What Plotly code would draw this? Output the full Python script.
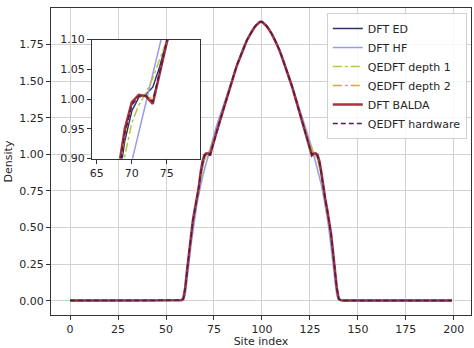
import plotly.graph_objects as go

# Lattice sites of the 1D chain
sites = list(range(200))

# Empty-region density (sites 0-56 and 143-199)
BASE = 0.003
N_EDGE = 57

# Densities on sites 57-99 (left flank) and 100-142 (right flank)
ed_left = [0.003, 0.004, 0.012, 0.08, 0.20, 0.33, 0.45, 0.54, 0.615, 0.685, 0.755,
           0.85, 0.93, 0.98, 1.003, 1.008, 1.02, 1.055, 1.10, 1.14, 1.18, 1.225,
           1.27, 1.315, 1.36, 1.405, 1.45, 1.49, 1.53, 1.57, 1.61, 1.645, 1.68,
           1.715, 1.745, 1.775, 1.80, 1.825, 1.848, 1.866, 1.882, 1.895, 1.905]
ed_right = [1.905, 1.895, 1.882, 1.866, 1.848, 1.825, 1.80, 1.775, 1.745, 1.715,
            1.68, 1.645, 1.61, 1.57, 1.53, 1.49, 1.45, 1.405, 1.36, 1.315, 1.27,
            1.225, 1.18, 1.14, 1.10, 1.055, 1.02, 1.008, 1.003, 0.98, 0.93, 0.85,
            0.755, 0.685, 0.615, 0.54, 0.45, 0.33, 0.20, 0.08, 0.012, 0.004, 0.003]

hf_left = [0.003, 0.003, 0.004, 0.04, 0.14, 0.26, 0.38, 0.48, 0.57, 0.65, 0.72,
           0.79, 0.845, 0.895, 0.945, 0.995, 1.045, 1.095, 1.14, 1.18, 1.22, 1.26,
           1.30, 1.34, 1.38, 1.42, 1.46, 1.50, 1.54, 1.58, 1.615, 1.65, 1.685,
           1.72, 1.75, 1.78, 1.805, 1.83, 1.852, 1.87, 1.886, 1.899, 1.91]
hf_right = [1.91, 1.899, 1.886, 1.87, 1.852, 1.83, 1.805, 1.78, 1.75, 1.72, 1.685,
            1.65, 1.615, 1.58, 1.54, 1.50, 1.46, 1.42, 1.38, 1.34, 1.30, 1.26,
            1.22, 1.18, 1.14, 1.095, 1.045, 0.995, 0.945, 0.895, 0.845, 0.79,
            0.72, 0.65, 0.57, 0.48, 0.38, 0.26, 0.14, 0.04, 0.004, 0.003, 0.003]

d1_left = [0.003, 0.004, 0.01, 0.07, 0.19, 0.32, 0.44, 0.53, 0.605, 0.675, 0.74,
           0.83, 0.905, 0.96, 0.99, 1.01, 1.035, 1.07, 1.105, 1.14, 1.18, 1.225,
           1.27, 1.315, 1.36, 1.405, 1.45, 1.49, 1.53, 1.57, 1.61, 1.645, 1.68,
           1.715, 1.745, 1.775, 1.80, 1.825, 1.848, 1.866, 1.882, 1.895, 1.905]
d1_right = [1.905, 1.895, 1.882, 1.866, 1.848, 1.825, 1.80, 1.775, 1.745, 1.715,
            1.68, 1.645, 1.61, 1.57, 1.53, 1.49, 1.45, 1.405, 1.36, 1.315, 1.27,
            1.225, 1.18, 1.14, 1.105, 1.07, 1.035, 1.01, 0.99, 0.96, 0.905, 0.83,
            0.74, 0.675, 0.605, 0.53, 0.44, 0.32, 0.19, 0.07, 0.01, 0.004, 0.003]

d2_left = [0.003, 0.004, 0.014, 0.085, 0.21, 0.335, 0.455, 0.545, 0.62, 0.69, 0.76,
           0.86, 0.94, 0.99, 1.004, 1.006, 1.0, 1.045, 1.095, 1.138, 1.18, 1.225,
           1.27, 1.315, 1.36, 1.405, 1.45, 1.49, 1.53, 1.57, 1.61, 1.645, 1.68,
           1.715, 1.745, 1.775, 1.80, 1.825, 1.848, 1.866, 1.882, 1.895, 1.905]
d2_right = [1.905, 1.895, 1.882, 1.866, 1.848, 1.825, 1.80, 1.775, 1.745, 1.715,
            1.68, 1.645, 1.61, 1.57, 1.53, 1.49, 1.45, 1.405, 1.36, 1.315, 1.27,
            1.225, 1.18, 1.138, 1.095, 1.045, 1.0, 1.006, 1.004, 0.99, 0.94, 0.86,
            0.76, 0.69, 0.62, 0.545, 0.455, 0.335, 0.21, 0.085, 0.014, 0.004, 0.003]

balda_left = [0.003, 0.005, 0.016, 0.09, 0.215, 0.34, 0.46, 0.55, 0.625, 0.695, 0.77,
              0.875, 0.95, 0.995, 1.007, 1.005, 0.992, 1.045, 1.095, 1.135, 1.178,
              1.223, 1.268, 1.313, 1.358, 1.403, 1.448, 1.488, 1.528, 1.568, 1.608,
              1.643, 1.678, 1.713, 1.743, 1.773, 1.798, 1.823, 1.846, 1.864, 1.88,
              1.893, 1.903]
balda_right = [1.903, 1.893, 1.88, 1.864, 1.846, 1.823, 1.798, 1.773, 1.743, 1.713,
               1.678, 1.643, 1.608, 1.568, 1.528, 1.488, 1.448, 1.403, 1.358, 1.313,
               1.268, 1.223, 1.178, 1.135, 1.095, 1.045, 0.992, 1.005, 1.007, 0.995,
               0.95, 0.875, 0.77, 0.695, 0.625, 0.55, 0.46, 0.34, 0.215, 0.09, 0.016,
               0.005, 0.003]

hw_left = [0.003, 0.004, 0.013, 0.085, 0.21, 0.335, 0.455, 0.545, 0.62, 0.69, 0.765,
           0.865, 0.942, 0.99, 1.005, 1.006, 0.996, 1.047, 1.098, 1.14, 1.18, 1.225,
           1.27, 1.315, 1.36, 1.405, 1.45, 1.49, 1.53, 1.57, 1.61, 1.645, 1.68,
           1.715, 1.745, 1.775, 1.80, 1.825, 1.848, 1.866, 1.882, 1.895, 1.905]
hw_right = [1.905, 1.895, 1.882, 1.866, 1.848, 1.825, 1.80, 1.775, 1.745, 1.715,
            1.68, 1.645, 1.61, 1.57, 1.53, 1.49, 1.45, 1.405, 1.36, 1.315, 1.27,
            1.225, 1.18, 1.14, 1.098, 1.047, 0.996, 1.006, 1.005, 0.99, 0.942, 0.865,
            0.765, 0.69, 0.62, 0.545, 0.455, 0.335, 0.21, 0.085, 0.013, 0.004, 0.003]

x_ticks = [0, 25, 50, 75, 100, 125, 150, 175, 200]
y_ticks = [0.0, 0.25, 0.5, 0.75, 1.0, 1.25, 1.5, 1.75]
inset_x_ticks = [65, 70, 75]
inset_y_ticks = [0.90, 0.95, 1.00, 1.05, 1.10]


def full_profile(left, right):
    values = [BASE] * N_EDGE + left + right + [BASE] * N_EDGE
    assert len(values) == len(sites)
    return values


series = [
    ("DFT ED", full_profile(ed_left, ed_right), "#2e3070", "solid", 1.5),
    ("DFT HF", full_profile(hf_left, hf_right), "#9a9ae8", "solid", 1.5),
    ("QEDFT depth 1", full_profile(d1_left, d1_right), "#b6c53c", "dashdot", 1.5),
    ("QEDFT depth 2", full_profile(d2_left, d2_right), "#e0a81c", "dashdot", 1.5),
    ("DFT BALDA", full_profile(balda_left, balda_right), "#a8323e", "solid", 2.5),
    ("QEDFT hardware", full_profile(hw_left, hw_right), "#4a1c4f", "5px,3px", 1.5),
]

FONT = "DejaVu Sans"
fig = go.Figure()

for name, dens, color, dash, width in series:
    fig.add_trace(go.Scatter(
        x=sites, y=dens, mode="lines", name=name,
        line=dict(color=color, dash=dash, width=width),
        xaxis="x", yaxis="y",
    ))

# Zoomed view of the left shoulder
for name, dens, color, dash, width in series:
    fig.add_trace(go.Scatter(
        x=sites, y=dens, mode="lines", name=name, showlegend=False,
        line=dict(color=color, dash=dash, width=width),
        xaxis="x2", yaxis="y2",
    ))

axis_common = dict(
    showline=True, linecolor="#333333", linewidth=1, mirror=True,
    ticks="outside", ticklen=4, tickcolor="#333333", zeroline=False,
    tickfont=dict(family=FONT, size=11, color="#262626"),
)

fig.update_layout(
    width=474, height=348,
    margin=dict(l=51, r=2, t=3, b=33),
    paper_bgcolor="white", plot_bgcolor="white",
    font=dict(family=FONT, size=11, color="#262626"),
    showlegend=True,
    legend=dict(
        x=0.99, y=0.984, xanchor="right", yanchor="top",
        bgcolor="rgba(255,255,255,0.85)", bordercolor="#d0d0d0", borderwidth=1,
        font=dict(family=FONT, size=11, color="#262626"),
        itemwidth=30, tracegroupgap=0,
    ),
    xaxis=dict(
        domain=[0, 1], range=[-9.95, 208.95], tickvals=x_ticks,
        showgrid=True, gridcolor="#d2d2d2", gridwidth=1,
        title=dict(text="Site index", standoff=2,
                   font=dict(family=FONT, size=11, color="#262626")),
        **axis_common,
    ),
    yaxis=dict(
        domain=[0, 1], range=[-0.096, 1.998], tickvals=y_ticks, tickformat=".2f",
        showgrid=True, gridcolor="#d2d2d2", gridwidth=1,
        title=dict(text="Density", standoff=4,
                   font=dict(family=FONT, size=11, color="#262626")),
        **axis_common,
    ),
    xaxis2=dict(
        domain=[0.0974, 0.354], anchor="y2", range=[64.3, 79.7],
        tickvals=inset_x_ticks, showgrid=False,
        **axis_common,
    ),
    yaxis2=dict(
        domain=[0.5096, 0.897], anchor="x2", range=[0.9, 1.1],
        tickvals=inset_y_ticks, tickformat=".2f", showgrid=False,
        **axis_common,
    ),
    shapes=[dict(
        type="rect", xref="x2 domain", yref="y2 domain",
        x0=0, x1=1, y0=0, y1=1, fillcolor="white",
        line=dict(width=0), layer="below",
    )],
)

fig.write_html("out.html")
